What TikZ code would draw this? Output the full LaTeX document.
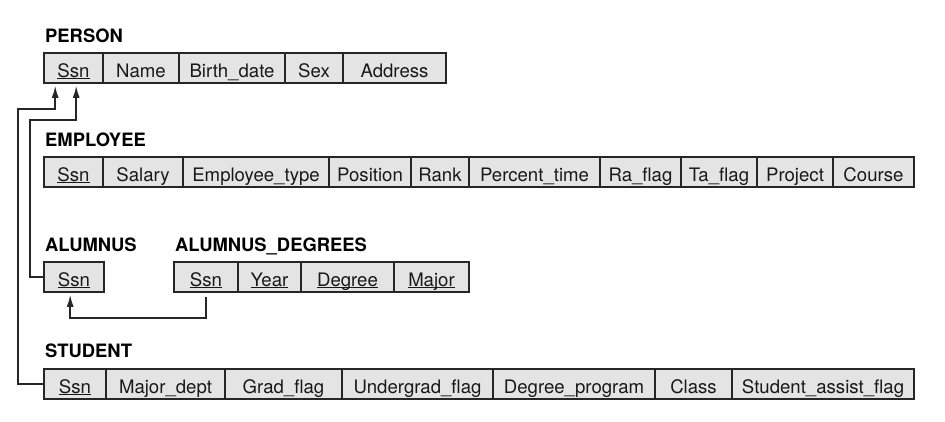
\documentclass[tikz,border=0pt]{standalone}
\usepackage{fontspec}
\setmainfont{TeX Gyre Heros}
\usetikzlibrary{arrows.meta}
\definecolor{cellgray}{HTML}{E4E4E4}
\definecolor{linegray}{HTML}{262626}
\newcommand{\pk}[1]{\underline{\raisebox{0pt}[\height][0pt]{#1}}}

\begin{document}
\begin{tikzpicture}[x=1pt,y=-1pt,
    cell/.style={draw=linegray, fill=cellgray, line width=1.6pt, inner sep=0pt,
        minimum height=30pt, text height=18.5pt, text depth=0pt,
        font=\fontsize{18.6}{20}\selectfont, text=black!90},
    title/.style={anchor=base west, inner sep=0pt, text=black,
        font=\fontsize{18.4}{20}\selectfont\bfseries},
    fk/.style={draw=linegray, line width=1.6pt, -{Latex[length=12pt,width=7pt]}}]
    \useasboundingbox (0,0) rectangle (945,421);

    % relation names
    \node[title] (personT) at (45,42) {PERSON};
    \node[title] (employeeT) at (45,146) {EMPLOYEE};
    \node[title] (alumnusT) at (45,251) {ALUMNUS};
    \node[title] (degreesT) at (175,251) {ALUMNUS\_DEGREES};
    \node[title] (studentT) at (45,357) {STUDENT};

    % attribute cells: name/left/right/text
    \foreach \n/\a/\b/\t in {p1/44/103/\pk{Ssn}, p2/103/179/Name, p3/179/285/Birth\_date,
        p4/285/343/Sex, p5/343/446/Address}
        \node[cell, minimum width={(\b-\a)*1pt}] (\n) at ({(\a+\b)/2},68) {\t};

    \foreach \n/\a/\b/\t in {e1/44/103/\pk{Ssn}, e2/103/183/Salary, e3/183/329/Employee\_type,
        e4/329/411/Position, e5/411/469/Rank, e6/469/600/Percent\_time, e7/600/681/Ra\_flag,
        e8/681/757/Ta\_flag, e9/757/833/Project, e10/833/914/Course}
        \node[cell, minimum width={(\b-\a)*1pt}] (\n) at ({(\a+\b)/2},172) {\t};

    \foreach \n/\a/\b/\t in {a1/44/104/\pk{Ssn}, d1/174/238/\pk{Ssn}, d2/238/301/\pk{Year},
        d3/301/394/\pk{Degree}, d4/394/469/\pk{Major}}
        \node[cell, minimum width={(\b-\a)*1pt}] (\n) at ({(\a+\b)/2},277) {\t};

    \foreach \n/\a/\b/\t in {s1/44/106/\pk{Ssn}, s2/106/225/Major\_dept, s3/225/342/Grad\_flag,
        s4/342/493/Undergrad\_flag, s5/493/655/Degree\_program, s6/655/732/Class,
        s7/732/914/Student\_assist\_flag}
        \node[cell, minimum width={(\b-\a)*1pt}] (\n) at ({(\a+\b)/2},384) {\t};

    % foreign keys
    \coordinate (ssnA) at ([xshift=12pt,yshift=-2pt]p1.south west);
    \coordinate (ssnB) at ([xshift=33pt,yshift=-2pt]p1.south west);
    \coordinate (ssnC) at ([xshift=27pt,yshift=-2pt]a1.south west);
    \draw[fk] (s1.west) -- ++(-25pt,0pt) |- ([yshift=-23pt]ssnA) -- (ssnA);
    \draw[fk] (a1.west) -- ++(-13pt,0pt) |- ([yshift=-34pt]ssnB) -- (ssnB);
    \draw[fk] ([yshift=-4pt]d1.south) -- ++(0pt,-21pt) -| (ssnC);
\end{tikzpicture}
\end{document}
